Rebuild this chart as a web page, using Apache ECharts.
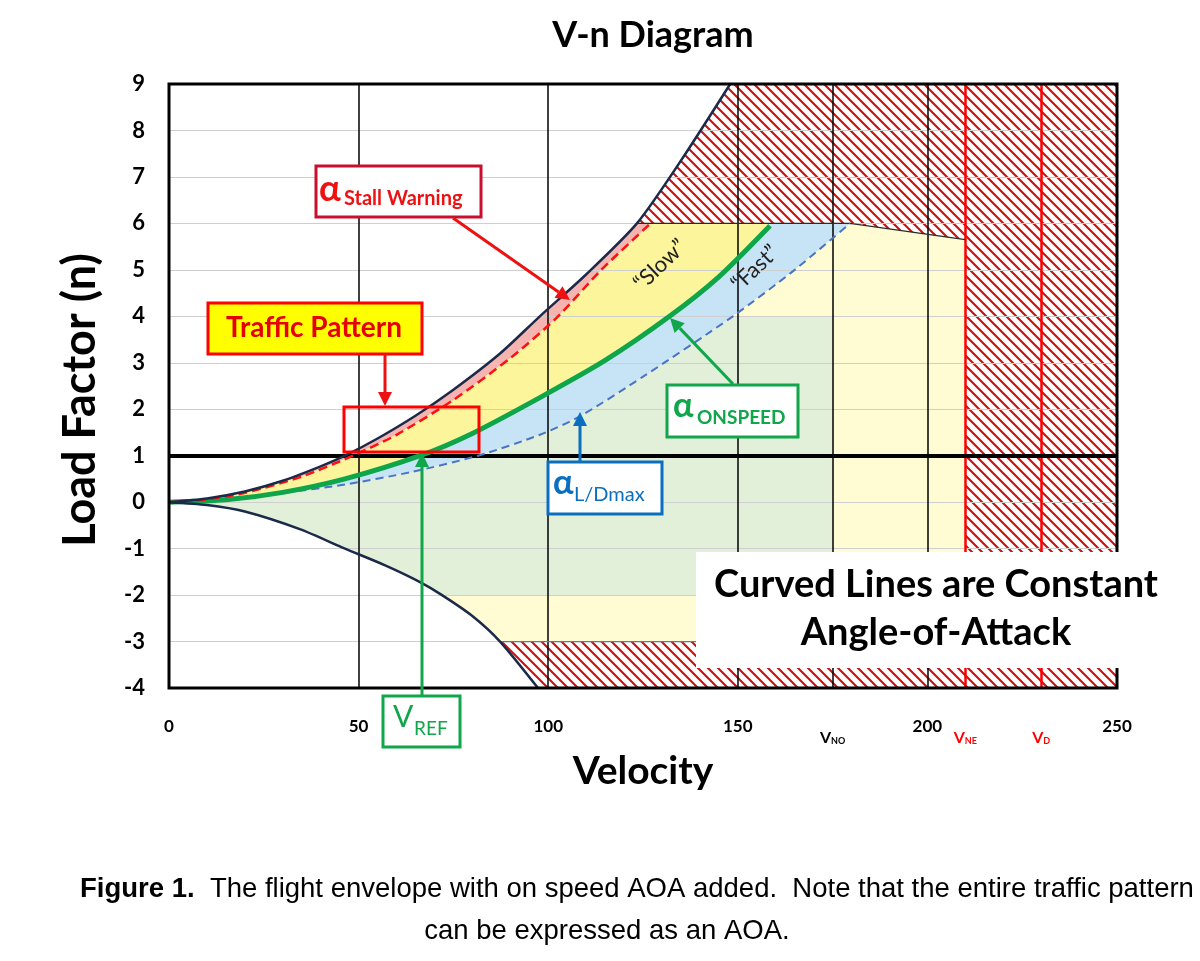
<!DOCTYPE html>
<html>
<head>
<meta charset="utf-8">
<title>V-n Diagram</title>
<script src="https://cdn.jsdelivr.net/npm/echarts@6/dist/echarts.min.js"></script>
<style>
  html, body { margin: 0; padding: 0; background: #fff; }
  #chart { width: 1200px; height: 961px; }
</style>
</head>
<body>
<div id="chart"></div>
<script>
// axis ticks
const velTicks = [0, 50, 100, 150, 175, 200, 210, 230, 250];
const velTickLabels = ['0', '50', '100', '150', 'V_NO', '200', 'V_NE', 'V_D', '250'];
const loadGrid = [-3, -2, -1, 0, 2, 3, 4, 5, 6, 7, 8];

// speed / load limits
const vNO = 175, vNE = 210, vD = 230, vMax = 250;
const nMax = 9, nMin = -4;
const nLimitPos = 6, nLimitNeg = -3;
const nNormalPos = 4, nNormalNeg = -2;
const nAtVNE = 5.65;

// curves, [velocity, load factor]
const stallCurve = [[0, 0], [10, 0.08], [20, 0.23], [30, 0.46], [40, 0.77], [46.4, 1], [55, 1.37], [65, 1.86],
  [75, 2.42], [87.3, 3.2], [97.8, 4], [110, 4.9], [123.4, 6], [135, 7.35], [148, 9]];
const negStallCurve = [[0, 0], [10, -0.06], [20, -0.2], [34.5, -0.58], [46.4, -1], [57, -1.36], [66.2, -1.72],
  [72, -2], [80, -2.45], [87.3, -3], [97.3, -4]];
const stallWarnCurve = [[0, 0], [10, 0.06], [20, 0.2], [35, 0.55], [48.5, 1], [60, 1.45], [75, 2.2],
  [90, 3.1], [102, 3.95], [114, 5], [127, 6]];
const onspeedCurve = [[0, 0], [15, 0.05], [30, 0.21], [46.4, 0.5], [66.2, 1], [80, 1.48], [97.8, 2.25],
  [115, 3.05], [132, 4], [145, 4.85], [158.5, 5.95]];
const ldmaxCurve = [[0, 0], [15, 0.07], [30, 0.2], [46.4, 0.38], [64, 0.65], [81.5, 1], [97.8, 1.45],
  [108.4, 1.85], [125, 2.7], [148.7, 4], [165, 5], [179.6, 6]];

const FONT = 'Lato, "Open Sans", sans-serif';
const CAPTION_FONT = '"Liberation Sans", Arial, sans-serif';

const upTo = (c, n) => c.filter(p => p[1] <= n);
const from = (c, n) => c.filter(p => p[1] >= n);
const last = c => c[c.length - 1];
const rev = c => c.slice().reverse();

const stallTop = last(upTo(stallCurve, nLimitPos));
const ldTop = last(ldmaxCurve);

const envelope = upTo(stallCurve, nLimitPos)
  .concat([[ldTop[0], nLimitPos], [vNE, nAtVNE], [vNE, nLimitNeg]])
  .concat(rev(negStallCurve.filter(p => p[1] >= nLimitNeg)));
const normal = upTo(ldmaxCurve, nNormalPos)
  .concat([[vNO, nNormalPos], [vNO, nNormalNeg]])
  .concat(rev(negStallCurve.filter(p => p[1] >= nNormalNeg)));
const fastBand = onspeedCurve.concat([[last(onspeedCurve)[0], nLimitPos], [ldTop[0], nLimitPos]]).concat(rev(ldmaxCurve));
const slowBand = stallWarnCurve.concat([[last(onspeedCurve)[0], nLimitPos]]).concat(rev(onspeedCurve));
const warnBand = upTo(stallCurve, nLimitPos).concat(rev(stallWarnCurve));
const hatched = from(stallCurve, nLimitPos)
  .concat([[vMax, nMax], [vMax, nMin]])
  .concat(rev(negStallCurve.filter(p => p[1] <= nLimitNeg)))
  .concat([[vNE, nLimitNeg], [vNE, nAtVNE], [ldTop[0], nLimitPos]]);

function hatchPattern() {
  const c = document.createElement('canvas');
  c.width = 10; c.height = 10;
  const ctx = c.getContext('2d');
  ctx.fillStyle = '#fff';
  ctx.fillRect(0, 0, 10, 10);
  ctx.strokeStyle = '#cc1111';
  ctx.lineWidth = 2.1;
  ctx.beginPath();
  ctx.moveTo(-5, 5); ctx.lineTo(5, 15);
  ctx.moveTo(0, 0); ctx.lineTo(10, 10);
  ctx.moveTo(5, -5); ctx.lineTo(15, 5);
  ctx.stroke();
  return c;
}

function area(name, pts, fill, z) {
  return {
    type: 'custom', name: name, z: z, silent: true,
    data: [pts[0]],
    renderItem: function (params, api) {
      return {
        type: 'polygon',
        shape: { points: pts.map(p => api.coord(p)) },
        style: { fill: fill, stroke: null }
      };
    }
  };
}

function curve(name, pts, color, width, dash, z, smooth) {
  return {
    type: 'line', name: name, data: pts, z: z, symbol: 'none', silent: true,
    smooth: smooth || false,
    lineStyle: { color: color, width: width, type: dash || 'solid' }
  };
}

function arrow(x1, y1, x2, y2, color, w) {
  const a = Math.atan2(y2 - y1, x2 - x1);
  const hl = 14, hw = 7;
  const bx = x2 - hl * Math.cos(a), by = y2 - hl * Math.sin(a);
  return [
    { type: 'line', z: 60, shape: { x1: x1, y1: y1, x2: bx, y2: by }, style: { stroke: color, lineWidth: w } },
    { type: 'polygon', z: 60, shape: { points: [[x2, y2], [bx - hw * Math.sin(a), by + hw * Math.cos(a)], [bx + hw * Math.sin(a), by - hw * Math.cos(a)]] }, style: { fill: color } }
  ];
}

function box(x, y, w, h, fill, stroke) {
  return { type: 'rect', z: 60, shape: { x: x, y: y, width: w, height: h }, style: { fill: fill, stroke: stroke, lineWidth: 3 } };
}

function txt(x, y, s, size, color, weight, align, extra) {
  return Object.assign({
    type: 'text', z: 61, x: x, y: y,
    style: { text: s, fontSize: size, fontFamily: FONT, fontWeight: weight || 'normal', fill: color, align: align || 'left', verticalAlign: 'middle' }
  }, extra || {});
}

const RED = '#ee1111', GREEN = '#10a64a', BLUE = '#0b6fbf';

const graphics = [
  { type: 'rect', z: 55, shape: { x: 169, y: 84, width: 948, height: 604 }, style: { fill: null, stroke: '#000', lineWidth: 3 } },
  // stall warning
  box(316, 166, 165, 51, '#fff', '#c8102e'),
  txt(319, 189, 'α', 36, RED, 'bold'),
  txt(344, 199, 'Stall Warning', 20, RED, 'bold'),
  ...arrow(453, 218, 570, 300, RED, 3),
  // traffic pattern
  box(208, 303, 214, 51, '#ffff00', '#ff0000'),
  txt(314, 328, 'Traffic Pattern', 28, '#e60000', 'bold', 'center'),
  ...arrow(385, 354, 385, 406, RED, 3),
  { type: 'rect', z: 60, shape: { x: 344, y: 407, width: 135, height: 45 }, style: { fill: null, stroke: '#ff0000', lineWidth: 3 } },
  // onspeed
  box(667, 385, 131, 52, '#fff', GREEN),
  txt(673, 406, 'α', 34, GREEN, 'bold'),
  txt(697, 418, 'ONSPEED', 19, GREEN, 'bold'),
  ...arrow(733, 384, 670, 318, GREEN, 3),
  // L/D max
  box(548, 462, 114, 52, '#fff', BLUE),
  txt(553, 483, 'α', 34, BLUE, 'bold'),
  txt(574, 495, 'L/Dmax', 20, BLUE, 'normal'),
  ...arrow(580, 462, 580, 412, BLUE, 3),
  // V ref
  ...arrow(422, 696, 422, 453, GREEN, 3),
  box(383, 696, 77, 51, '#fff', GREEN),
  txt(393, 717, 'V', 30, GREEN, 'normal'),
  txt(414, 729, 'REF', 19, GREEN, 'normal'),
  // slow / fast
  txt(660, 265, '\u201cSlow\u201d', 22, '#222', 'normal', 'center', { rotation: 0.76 }),
  txt(755, 268, '\u201cFast\u201d', 22, '#222', 'normal', 'center', { rotation: 0.76 }),
  // note box
  { type: 'rect', z: 62, shape: { x: 696, y: 552, width: 478, height: 116 }, style: { fill: '#fff' } },
  txt(936, 585, 'Curved Lines are Constant', 38, '#000', 'bold', 'center', { z: 63 }),
  txt(936, 633, 'Angle-of-Attack', 38, '#000', 'bold', 'center', { z: 63 }),
  // caption
  {
    type: 'text', z: 61, x: 80, y: 889,
    style: {
      text: '{b|Figure 1.}  The flight envelope with on speed AOA added.  Note that the entire traffic pattern',
      fontSize: 27.5, fontFamily: CAPTION_FONT, fill: '#000', verticalAlign: 'middle',
      rich: { b: { fontSize: 27.5, fontWeight: 'bold', fontFamily: CAPTION_FONT, fill: '#000' } }
    }
  },
  {
    type: 'text', z: 61, x: 607, y: 931,
    style: { text: 'can be expressed as an AOA.', fontSize: 27.5, fontFamily: CAPTION_FONT, fill: '#000', align: 'center', verticalAlign: 'middle' }
  }
];

const chart = echarts.init(document.getElementById('chart'), null, { renderer: 'canvas' });

chart.setOption({
  backgroundColor: '#fff',
  animation: false,
  title: {
    text: 'V-n Diagram', left: 648, top: 12, textAlign: 'center',
    textStyle: { fontSize: 36, fontWeight: 'bold', fontFamily: FONT, color: '#000' }
  },
  grid: { left: 169, right: 83, top: 84, bottom: 273 },
  xAxis: {
    type: 'value', min: 0, max: vMax,
    name: 'Velocity', nameLocation: 'middle', nameGap: 64,
    nameTextStyle: { fontSize: 39, fontWeight: 'bold', fontFamily: FONT, color: '#000' },
    axisLine: { show: false }, axisTick: { show: false }, splitLine: { show: false },
    axisLabel: {
      customValues: velTicks, margin: 30, color: '#000', fontSize: 17, fontWeight: 'bold', fontFamily: FONT,
      formatter: function (v) {
        const lab = velTickLabels[velTicks.indexOf(v)];
        if (lab === undefined) return '';
        if (lab.indexOf('_') < 0) return lab;
        const parts = lab.split('_');
        const r = v === vNO ? '' : 'r';
        return '{v' + r + '|' + parts[0] + '}{s' + r + '|' + parts[1] + '}';
      },
      rich: {
        v: { fontSize: 16, fontWeight: 'bold', color: '#000', fontFamily: FONT, padding: [12, 0, 0, 0] },
        s: { fontSize: 9, fontWeight: 'bold', color: '#000', fontFamily: FONT, padding: [18, 0, 0, 0] },
        vr: { fontSize: 16, fontWeight: 'bold', color: '#ff0000', fontFamily: FONT, padding: [12, 0, 0, 0] },
        sr: { fontSize: 9, fontWeight: 'bold', color: '#ff0000', fontFamily: FONT, padding: [18, 0, 0, 0] }
      }
    }
  },
  yAxis: {
    type: 'value', min: nMin, max: nMax, interval: 1,
    name: 'Load Factor (n)', nameLocation: 'middle', nameGap: 66, nameRotate: 90,
    nameTextStyle: { fontSize: 45, fontWeight: 'bold', fontFamily: FONT, color: '#000', padding: [0, 28, 0, 0] },
    axisLine: { show: false }, axisTick: { show: false }, splitLine: { show: false },
    axisLabel: { margin: 24, color: '#000', fontSize: 22, fontWeight: 'bold', fontFamily: FONT }
  },
  series: [
    area('envelope', envelope, '#fffbd3', 1),
    area('normal', normal, '#e2efd9', 2),
    area('fast', fastBand, '#c7e4f6', 3),
    area('slow', slowBand, '#fdf59c', 3),
    area('warning', warnBand, '#f6b4b1', 3),
    area('structural limit', hatched, { type: 'pattern', image: hatchPattern(), repeat: 'repeat' }, 3),
    {
      type: 'line', name: 'grid', data: [], z: 4, silent: true,
      markLine: {
        silent: true, symbol: ['none', 'none'], label: { show: false }, animation: false,
        lineStyle: { color: '#cfcfcf', width: 1.2, type: 'solid' },
        data: loadGrid.map(v => ({ yAxis: v }))
      }
    },
    curve('limit top', [stallTop, [ldTop[0], nLimitPos], [vNE, nAtVNE]], '#2b2b2b', 1.3, 'solid', 5),
    curve('limit bottom', [negStallCurve.find(p => p[1] === nLimitNeg), [vNE, nLimitNeg]], '#5a78b0', 1.2, 'solid', 5),
    {
      type: 'line', name: 'speeds', data: [], z: 6, silent: true,
      markLine: {
        silent: true, symbol: ['none', 'none'], label: { show: false }, animation: false,
        data: [50, 100, 150, vNO, 200].map(v => ({ xAxis: v, lineStyle: { color: '#000', width: 1.5, type: 'solid' } }))
          .concat([vNE, vD].map(v => ({ xAxis: v, lineStyle: { color: '#ff0000', width: 2.5, type: 'solid' } })))
          .concat([{ yAxis: 1, lineStyle: { color: '#000', width: 4, type: 'solid' } }])
      }
    },
    curve('L/D max', ldmaxCurve, '#4a74c4', 2, [8, 5], 7, 0.25),
    curve('onspeed', onspeedCurve, '#0fa64b', 5, 'solid', 8, 0.25),
    curve('stall warning', stallWarnCurve, '#ff1010', 2.5, [9, 5], 8, 0.25),
    curve('stall', stallCurve, '#1c2a4a', 2.5, 'solid', 9, 0.25),
    curve('negative stall', negStallCurve, '#1c2a4a', 2.5, 'solid', 9, 0.25)
  ],
  graphic: { elements: graphics }
});
</script>
</body>
</html>
